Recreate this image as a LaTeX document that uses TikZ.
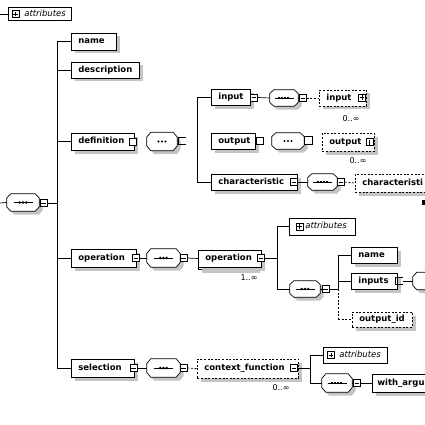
\documentclass[tikz,border=0pt]{standalone}
\usepackage{fontspec}
\usetikzlibrary{shadows}
\newfontfamily\dvs{DejaVu Sans}
\definecolor{shgray}{RGB}{196,196,196}
\tikzset{
  shad/.style={general shadow={fill=shgray, draw=none, shadow xshift=3.5pt, shadow yshift=-3.5pt}},
  boxbase/.style={draw, fill=white, line width=0.7pt, inner xsep=7pt, inner ysep=0pt, anchor=west, align=left, text height=6.5pt, text depth=2pt},
  el/.style={boxbase, font=\dvs\bfseries\fontsize{8.5}{10}\selectfont, shad},
  opt/.style={el, dash pattern=on 2pt off 1.6pt},
  attr/.style={boxbase, font=\dvs\itshape\fontsize{8.5}{10}\selectfont},
  sqempty/.style={draw, fill=white, line width=0.6pt, minimum size=7pt, inner sep=0pt},
  sqminus/.style={sqempty, path picture={\draw[line width=0.6pt] ([xshift=-2.3pt]path picture bounding box.center) -- ([xshift=2.3pt]path picture bounding box.center);}},
  sqplus/.style={sqempty, path picture={\draw[line width=0.6pt] ([xshift=-2.3pt]path picture bounding box.center) -- ([xshift=2.3pt]path picture bounding box.center); \draw[line width=0.6pt] ([yshift=-2.3pt]path picture bounding box.center) -- ([yshift=2.3pt]path picture bounding box.center);}},
  sqbang/.style={sqempty, path picture={\draw[line width=0.8pt] ([yshift=-2.5pt]path picture bounding box.center) -- ([yshift=2.5pt]path picture bounding box.center);}},
  brk/.style={draw=none, fill=none, minimum size=7pt, inner sep=0pt},
  octn/.style={draw=none, fill=none, inner sep=0pt, minimum height=17pt},
  octline/.style={draw, fill=white, line width=0.7pt, shad},
  conn/.style={line width=0.7pt},
  dconn/.style={line width=0.7pt, dash pattern=on 2pt off 1.6pt},
  lab/.style={font=\dvs\fontsize{8}{9}\selectfont, inner sep=0pt}
}
% octagon outline drawn round an (invisible) named node
\newcommand\xsoct[1]{%
  \path[octline] ([yshift=4.5pt]#1.west) -- ([xshift=4pt]#1.north west) -- ([xshift=-4pt]#1.north east)
    -- ([yshift=4.5pt]#1.east) -- ([yshift=-4.5pt]#1.east) -- ([xshift=-4pt]#1.south east)
    -- ([xshift=4pt]#1.south west) -- ([yshift=-4.5pt]#1.west) -- cycle;}
% sequence symbol: line with three dots
\newcommand\xsseq[1]{%
  \draw[line width=0.7pt] ([xshift=-9.5pt]#1.center) -- ([xshift=9.5pt]#1.center);
  \foreach \d in {-3.2,0,3.2}{\fill ([xshift=\d pt]#1.center) circle (1.35pt);}}
% dashed sequence symbol
\newcommand\xsdash[1]{%
  \draw[line width=0.7pt] ([xshift=-9.5pt]#1.center) -- ([xshift=9.5pt]#1.center);
  \draw[line width=1.4pt, dash pattern=on 2pt off 1pt] ([xshift=-6pt]#1.center) -- ([xshift=6pt]#1.center);}
% three dots only
\newcommand\xsdots[1]{%
  \foreach \d in {-3.5,0,3.5}{\fill ([xshift=\d pt]#1.center) circle (1.15pt);}}
\begin{document}
\begin{tikzpicture}[x=1pt,y=-1pt]
\useasboundingbox (0,0) rectangle (425,425);
\clip (0,0) rectangle (425,425);

% ---------- top attributes ----------
\coordinate (t0) at (0,14);
\node[attr, minimum width=63pt, text width=49pt, minimum height=13pt] (attrTop) at (8,14) {\hspace*{9pt}\mbox{attributes}};
\node[sqplus] (attrTopP) at (15.5,14) {};

% ---------- main sequence ----------
\coordinate (m0) at (0,203);
\node[octn, minimum width=32pt] (moct) at (23,202.5) {};
\xsoct{moct}\xsseq{moct}
\node[sqminus] (mmin) at (43.5,203) {};
\coordinate (trunk) at (57,0);

% ---------- first-level children ----------
\node[el, minimum width=45pt, text width=31pt, minimum height=17pt] (name) at (71,41.5) {name};
\node[el, minimum width=68pt, text width=54pt, minimum height=16pt] (description) at (71,70) {description};
\node[el, minimum width=63pt, text width=49pt, minimum height=17pt] (definition) at (71,141.5) {definition};
\node[sqempty] (defsq) at (133,142) {};
\node[el, minimum width=65pt, text width=51pt, minimum height=18pt] (operation) at (71,258) {operation};
\node[sqminus] (opmin) at (136,258) {};
\node[el, minimum width=63pt, text width=49pt, minimum height=18pt] (selection) at (71,368) {selection};
\node[sqminus] (selmin) at (133.5,368) {};

% ---------- definition subtree ----------
\node[octn, minimum width=30pt, minimum height=18pt] (defoct) at (162,141.5) {};
\xsoct{defoct}\xsdots{defoct}
\node[brk] (defbr) at (182.5,141) {};
\coordinate (v2) at (197,0);

\node[el, minimum width=39pt, text width=25pt, minimum height=16pt] (input) at (211,97.5) {input};
\node[sqminus] (inmin) at (254,97.5) {};
\node[octn, minimum width=28pt, minimum height=16pt] (inoct) at (284,98) {};
\xsoct{inoct}\xsdash{inoct}
\node[sqminus] (inocmin) at (303,98) {};
\node[opt, minimum width=47pt, text width=33pt, minimum height=16pt] (inputd) at (319,98) {input};
\node[sqplus] (inputdP) at (362,97.5) {};
\node[lab] (inlab) at (351,119) {0..∞};

\node[el, minimum width=44pt, text width=30pt, minimum height=16pt] (output) at (211,141) {output};
\node[sqempty] (outsq) at (259.5,141) {};
\node[octn, minimum width=32pt, minimum height=16pt] (outoct) at (288,141) {};
\xsoct{outoct}\xsdots{outoct}
\node[sqempty, minimum size=8pt] (outnotch) at (308,140.5) {};
\node[opt, minimum width=52pt, text width=38pt, minimum height=18pt] (outputd) at (322,142) {output};
\node[sqbang] (outbang) at (369.5,142) {};
\node[lab] (outlab) at (358,161) {0..∞};

\node[el, minimum width=86pt, text width=72pt, minimum height=16pt] (characteristic) at (211,182) {characteristic};
\node[sqminus] (chmin) at (294,182) {};
\node[octn, minimum width=29pt, minimum height=16pt] (choct) at (322.5,182) {};
\xsoct{choct}\xsdash{choct}
\node[sqminus] (chocmin) at (341,182) {};
\node[opt, minimum width=90pt, text width=76pt, minimum height=18pt] (chard) at (355,183) {characteristi};
\fill (422,200) rectangle (425,205);

% ---------- operation subtree ----------
\node[octn, minimum width=33pt, minimum height=18pt] (opoct) at (163.5,258) {};
\xsoct{opoct}\xsseq{opoct}
\node[sqminus] (opocmin) at (183.5,258) {};
\node[el, minimum width=58pt, minimum height=17pt] (op2back) at (198,261) {};
\node[el, minimum width=63pt, text width=49pt, minimum height=17pt] (op2) at (198,258.5) {operation};
\node[sqminus] (op2min) at (261,258) {};
\node[lab] (oplab) at (249,278) {1..∞};
\coordinate (v3) at (277,0);

\node[attr, minimum width=66pt, text width=52pt, minimum height=17pt] (attrs2) at (289,226.5) {\hspace*{9pt}\mbox{attributes}};
\node[sqplus] (attrs2P) at (299.5,226.5) {};
\node[octn, minimum width=30pt, minimum height=16pt] (opoct2) at (305,289) {};
\xsoct{opoct2}\xsseq{opoct2}
\node[sqminus] (opoc2min) at (325.5,289) {};
\coordinate (v4) at (338,0);

\node[el, minimum width=46pt, text width=32pt, minimum height=16pt] (name2) at (351,255) {name};
\node[el, minimum width=46pt, text width=32pt, minimum height=16pt] (inputs) at (351,281) {inputs};
\node[brk] (inputsbr) at (399,281) {};
\node[octn, minimum width=34pt, minimum height=17pt] (inpoct) at (430,281) {};
\xsoct{inpoct}
\node[opt, minimum width=60pt, text width=46pt, minimum height=15pt] (outputid) at (352,319.5) {output\_id};

% ---------- selection subtree ----------
\node[octn, minimum width=33pt, minimum height=18pt] (seloct) at (163.5,368) {};
\xsoct{seloct}\xsseq{seloct}
\node[sqminus] (selocmin) at (183.5,368) {};
\node[opt, minimum width=101pt, text width=87pt, minimum height=19pt] (cf) at (197,368.5) {context\_function};
\node[sqminus] (cfmin) at (294,368) {};
\node[lab] (cflab) at (281,388) {0..∞};
\coordinate (v5) at (310,0);
\node[attr, minimum width=64pt, text width=50pt, minimum height=16pt] (attrs3) at (323,355) {\hspace*{9pt}\mbox{attributes}};
\node[sqplus] (attrs3P) at (331,355) {};
\node[octn, minimum width=30pt, minimum height=18pt] (cfoct) at (337,383) {};
\xsoct{cfoct}\xsdash{cfoct}
\node[sqminus] (cfocmin) at (357,383) {};
\node[el, inner xsep=5pt, minimum width=70pt, text width=60pt, minimum height=18pt] (withargu) at (372,383) {with\_argu};

% ---------- brackets ----------
\draw[conn] (defbr.north east) -- (defbr.north west) -- (defbr.south west) -- (defbr.south east);
\draw[conn] (inputsbr.north east) -- (inputsbr.north west) -- (inputsbr.south west) -- (inputsbr.south east);

% ---------- connectors ----------
\draw[conn] (t0) -- (attrTop.west);
\draw[conn] (m0) -- (moct.west);
\draw[conn] (moct.east) -- (mmin.west);
\draw[conn] (mmin.east) -- (mmin.east -| trunk);
\draw[conn] (trunk |- name.west) -- (trunk |- selection.west);
\foreach \n in {name,description,definition,operation,selection}
  \draw[conn] (trunk |- \n.west) -- (\n.west);

\draw[conn] (v2 |- input.west) -- (v2 |- characteristic.west);
\draw[conn] (v2 |- input.west) -- (input.west);
\draw[conn] (v2 |- characteristic.west) -- (characteristic.west);
\draw[conn] (inmin.east) -- (inoct.west);
\draw[conn] (inoct.east) -- (inocmin.west);
\draw[dconn] (inocmin.east) -- (inputd.west);
\draw[conn] (chmin.east) -- (choct.west);
\draw[conn] (choct.east) -- (chocmin.west);
\draw[dconn] (chocmin.east) -- (chard.west);

\draw[conn] (opmin.east) -- (opoct.west);
\draw[conn] (opoct.east) -- (opocmin.west);
\draw[conn] (opocmin.east) -- (op2.west);
\draw[conn] (op2min.east) -- (op2min.east -| v3);
\draw[conn] (v3 |- attrs2.west) -- (v3 |- opoct2.west);
\draw[conn] (v3 |- attrs2.west) -- (attrs2.west);
\draw[conn] (v3 |- opoct2.west) -- (opoct2.west);
\draw[conn] (opoct2.east) -- (opoc2min.west);
\draw[conn] (opoc2min.east) -- (opoc2min.east -| v4);
\draw[conn] (v4 |- name2.west) -- (v4 |- opoc2min.east);
\draw[dconn] (v4 |- opoc2min.east) -- (v4 |- outputid.west);
\draw[conn] (v4 |- name2.west) -- (name2.west);
\draw[conn] (v4 |- inputs.west) -- (inputs.west);
\draw[dconn] (v4 |- outputid.west) -- (outputid.west);
\draw[conn] (inputsbr.east) -- (inpoct.west);

\draw[conn] (selmin.east) -- (seloct.west);
\draw[conn] (seloct.east) -- (selocmin.west);
\draw[dconn] (selocmin.east) -- (cf.west);
\draw[conn] (cfmin.east) -- (cfmin.east -| v5);
\draw[conn] (v5 |- attrs3.west) -- (v5 |- cfoct.west);
\draw[conn] (v5 |- attrs3.west) -- (attrs3.west);
\draw[conn] (v5 |- cfoct.west) -- (cfoct.west);
\draw[conn] (cfoct.east) -- (cfocmin.west);
\draw[conn] (cfocmin.east) -- (withargu.west);
\end{tikzpicture}
\end{document}
